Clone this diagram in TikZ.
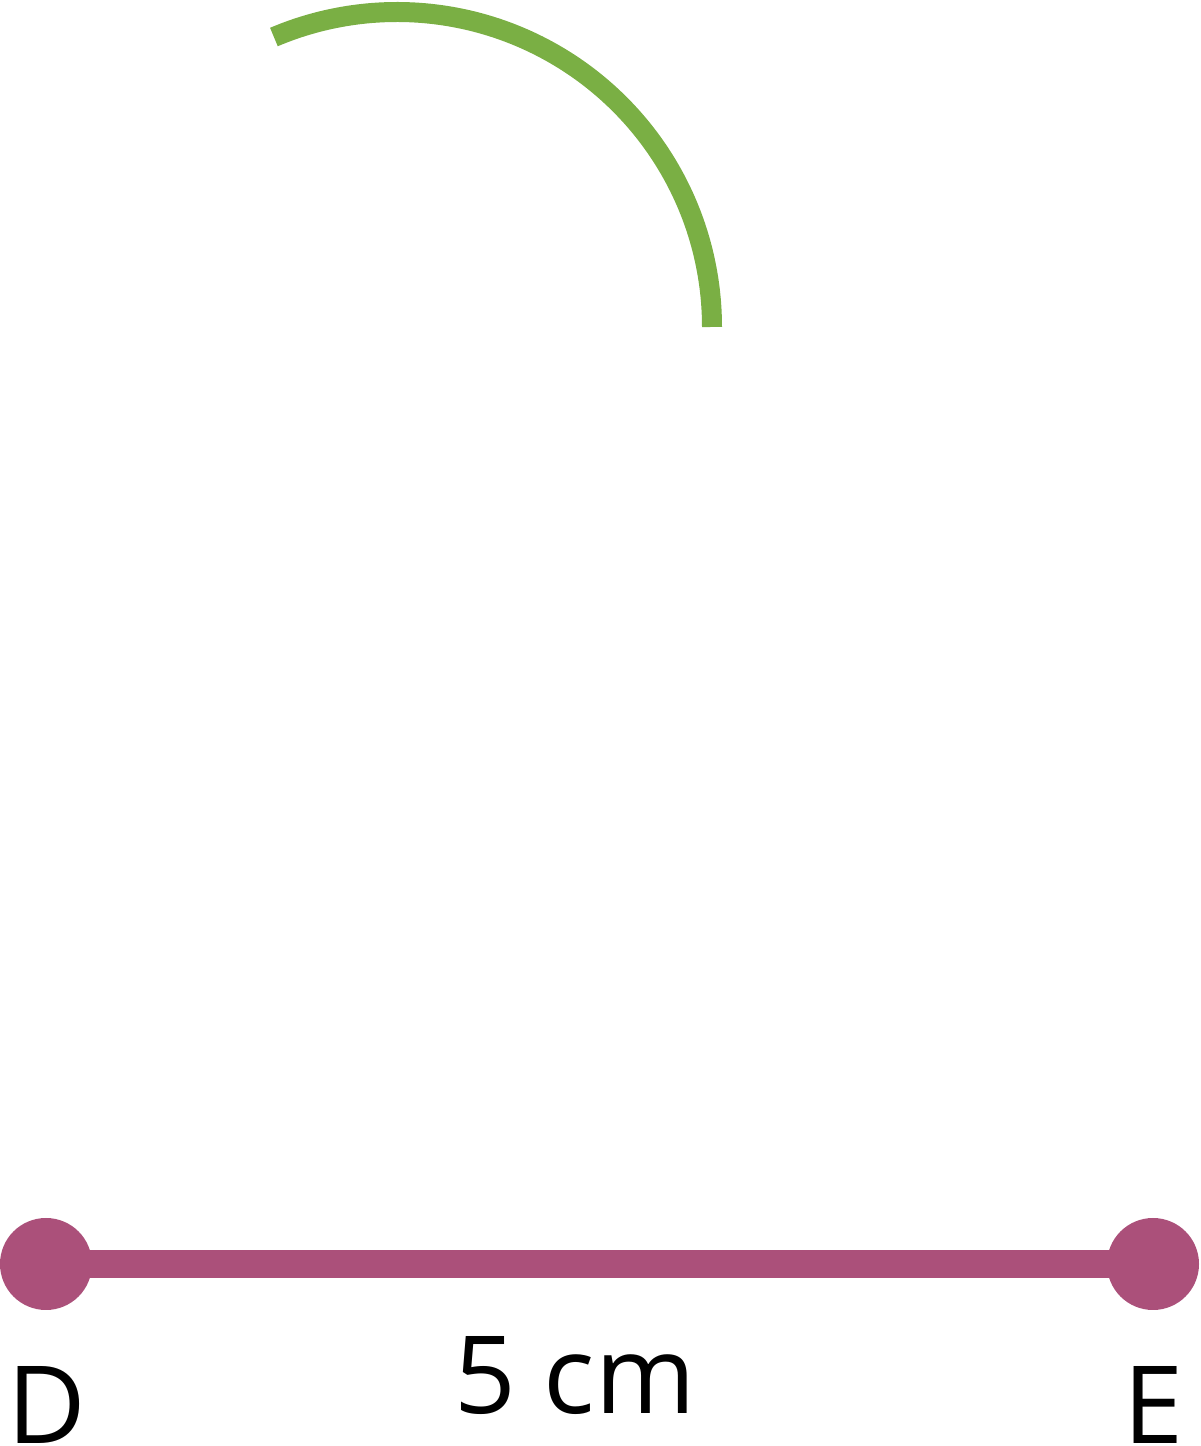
\documentclass[tikz,border=0pt]{standalone}
\usepackage{fontspec}
\setmainfont{Open Sans}
\definecolor{arcgreen}{RGB}{122,175,68}
\definecolor{segpink}{RGB}{171,80,122}
\begin{document}
\begin{tikzpicture}
            \tikzstyle{dot} = [circle, fill=segpink, inner sep=0pt, minimum size=0.92cm]
            \tikzstyle{segment} = [color=segpink, line width=0.28cm]
            \tikzstyle{compass} = [color=arcgreen, line width=0.2cm]
            \tikzstyle{lbl} = [anchor=base, inner sep=0pt, font=\fontsize{30.7}{36}\selectfont]
            \useasboundingbox (0, 0) rectangle (12, 14.46);
            \node[dot] (D) at (0.46, 1.82) {};
            \node[dot] (E) at (11.53, 1.82) {};
            \draw[segment] (D.center) -- (E.center);
            \node[lbl] (labelD) at (0.465, 0.03) {D};
            \node[lbl] (labelE) at (11.53, 0.03) {E};
            \node[lbl] (length) at (5.75, 0.33) {5 cm};
            \coordinate (arcstart) at (7.12, 11.19);
            \draw[compass] (arcstart) arc[start angle=0, end angle=113, radius=3.15];
        \end{tikzpicture}
\end{document}
